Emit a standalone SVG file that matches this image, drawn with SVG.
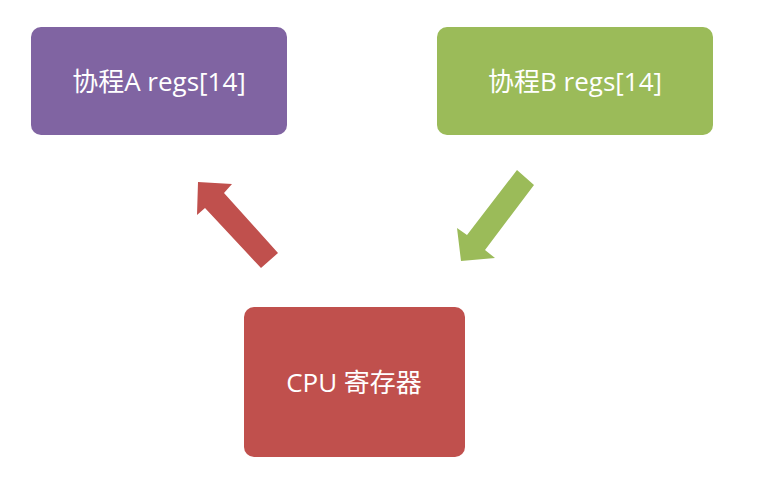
<svg xmlns="http://www.w3.org/2000/svg" width="764" height="477" viewBox="0 0 764 477">
<style>
text{font-family:"Open Sans","Noto Sans CJK SC",sans-serif;fill:#fff;font-size:26px;text-anchor:middle;dominant-baseline:central}
</style>
<rect width="764" height="477" fill="#fff"/>
<g id="nodeA"><rect x="31" y="27" width="256" height="108" rx="10" fill="#8064A2"/><text x="159" y="81">协程A regs[14]</text></g>
<g id="nodeB"><rect x="437" y="27" width="276" height="108" rx="10" fill="#9BBB59"/><text x="575" y="81">协程B regs[14]</text></g>
<g id="cpu"><rect x="244" y="307" width="221" height="150" rx="10" fill="#C0504D"/><text x="354" y="382">CPU 寄存器</text></g>
<g id="connectors">
<polygon points="198,182 232,184 224,193 278,253 261,268 205,208 197,215" fill="#C0504D"/>
<polygon points="517,170 534,185 485,250 495,258 461,261 457,228 467,235" fill="#9BBB59"/>
</g>
</svg>
